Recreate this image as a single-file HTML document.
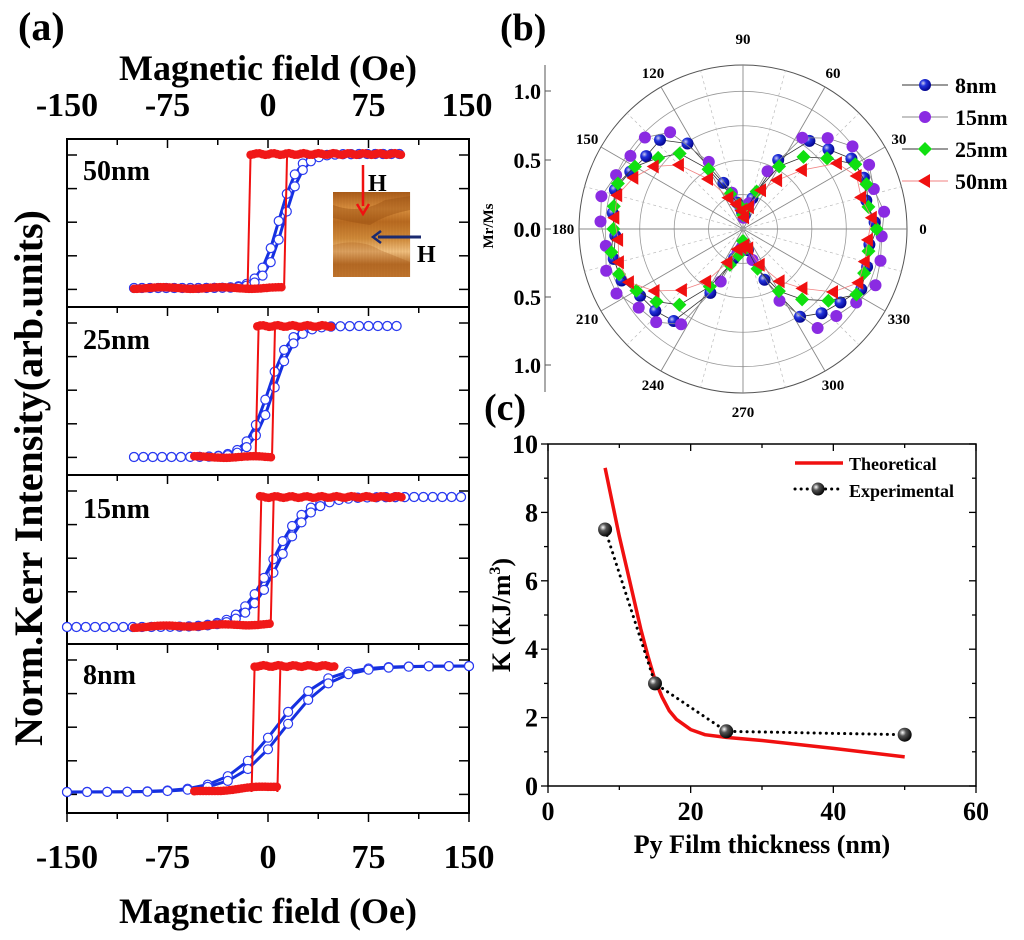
<!DOCTYPE html>
<html><head><meta charset="utf-8"><style>
html,body{margin:0;padding:0;background:#fff;}
svg{display:block;font-family:"Liberation Serif",serif;font-weight:bold;}
</style></head><body>
<svg id="s" width="1024" height="940" viewBox="0 0 1024 940" xmlns="http://www.w3.org/2000/svg">
<defs>
<linearGradient id="ins" x1="0" y1="0" x2="0" y2="1">
<stop offset="0" stop-color="#a85a18"/><stop offset="0.2" stop-color="#d99040"/><stop offset="0.35" stop-color="#b86a20"/><stop offset="0.55" stop-color="#cf8a3a"/><stop offset="0.7" stop-color="#f0c080"/><stop offset="0.85" stop-color="#b8702a"/><stop offset="1" stop-color="#c88038"/>
</linearGradient>
<radialGradient id="ball" cx="0.35" cy="0.35" r="0.7"><stop offset="0" stop-color="#fff"/><stop offset="0.35" stop-color="#555"/><stop offset="1" stop-color="#000"/></radialGradient>
<radialGradient id="bball" cx="0.35" cy="0.35" r="0.7"><stop offset="0" stop-color="#cce"/><stop offset="0.35" stop-color="#2233dd"/><stop offset="1" stop-color="#000088"/></radialGradient>
</defs>
<g id="g"></g>
</svg>
<script>
var g=document.getElementById('g'),o='';
function L(x1,y1,x2,y2,c,w,extra){o+='<line x1="'+x1+'" y1="'+y1+'" x2="'+x2+'" y2="'+y2+'" stroke="'+c+'" stroke-width="'+w+'" '+(extra||'')+'/>';}
function T(x,y,t,s,a,extra){o+='<text x="'+x+'" y="'+y+'" font-size="'+s+'" text-anchor="'+(a||'start')+'" '+(extra||'')+'>'+t+'</text>';}
function P(pts,c,w,extra){o+='<polyline fill="none" points="'+pts.map(function(p){return p[0].toFixed(1)+','+p[1].toFixed(1)}).join(' ')+'" stroke="'+c+'" stroke-width="'+w+'" '+(extra||'')+'/>';}
// ---------- Panel (a) ----------
T(18,40,'(a)',40);
T(268,80,'Magnetic field (Oe)',36,'middle');
var xs=[-150,-75,0,75,150];
function X(h){return 67+(h+150)*402/300;}
xs.forEach(function(v){T(X(v)+(v==150?-2:0),116,v,34,'middle');T(X(v),868,v,34,'middle');});
T(268,923,'Magnetic field (Oe)',36,'middle');
T(0,0,'Norm.Kerr Intensity(arb.units)',40,'middle','transform="translate(42,478) rotate(-90)"');
var panels=[[139,307],[307,475],[475,644],[644,813]];
panels.forEach(function(p){
 o+='<rect x="67" y="'+p[0]+'" width="402" height="'+(p[1]-p[0])+'" fill="none" stroke="#000" stroke-width="2"/>';
 for(var h=-150;h<=150;h+=37.5){var len=(h%75==0)?9:6;L(X(h),p[0],X(h),p[0]+len,'#000',1.5);}
 for(var k=0;k<5;k++){var y=p[0]+16+k*33.6;L(67,y,77,y,'#000',1.5);L(459,y,469,y,'#000',1.5);}
});
for(var h=-150;h<=150;h+=37.5){var len=(h%75==0)?9:6;L(X(h),813,X(h),813+len,'#000',1.5);}
function tanh(x){return Math.tanh(x);}
function loop(lo,hi,blue,red){
 var a=[],b=[];
 for(var h=blue.from;h<=blue.to;h+=blue.step){
  var f1=(tanh((h-blue.c1)/blue.w)+1)/2,f2=(tanh((h-blue.c2)/blue.w)+1)/2;
  a.push([X(h),lo+(hi-lo)*f1]);b.push([X(h),lo+(hi-lo)*f2]);
 }
 if(blue.line){P(a,'#1530e0',3);P(b,'#1530e0',3);}
 a.concat(b).forEach(function(p){o+='<circle cx="'+p[0].toFixed(1)+'" cy="'+p[1].toFixed(1)+'" r="4.5" fill="#fff" stroke="#2a3af0" stroke-width="1.2"/>';});
 L(X(red.s1),hi,X(red.s1)-3,lo,'#f01010',2);L(X(red.s2)+3,hi,X(red.s2),lo,'#f01010',2);
 for(var h=red.lf;h<=red.lt;h+=2.2){var y=lo+(red.tilt||0)*(h-red.lf)/(red.lt-red.lf)+Math.sin(h*3)*0.8;o+='<circle cx="'+X(h).toFixed(1)+'" cy="'+y.toFixed(1)+'" r="4.3" fill="#f01818"/>';}
 for(var h=red.hf;h<=red.ht;h+=2.2){var y=hi+Math.sin(h*2.3)*0.8;o+='<circle cx="'+X(h).toFixed(1)+'" cy="'+y.toFixed(1)+'" r="4.3" fill="#f01818"/>';}
}
loop(288,154,{from:-100,to:100,step:6,c1:8,c2:12,w:14,line:true},{s1:-13,s2:12,lf:-100,lt:12,hf:-13,ht:100});
loop(457,326,{from:-100,to:100,step:7,c1:0,c2:4,w:16,line:true},{s1:-7,s2:3,lf:-55,lt:3,hf:-8,ht:48});
loop(627,497,{from:-150,to:150,step:7,c1:3,c2:8,w:24,line:true},{s1:-5,s2:2,lf:-100,lt:3,hf:-6,ht:100,tilt:-3});
loop(792,666,{from:-150,to:150,step:15,c1:5,c2:12,w:36,line:true},{s1:-10,s2:7,lf:-55,lt:8,hf:-10,ht:50,tilt:-6});
T(83,180,'50nm',28);T(83,349,'25nm',28);T(83,518,'15nm',28);T(83,684,'8nm',28);
// inset
o+='<rect x="333" y="192" width="77" height="85" fill="url(#ins)"/>';
for(var i=0;i<26;i++){o+='<line x1="'+(335+i*3)+'" y1="192" x2="'+(335+i*3)+'" y2="277" stroke="#8a4a10" stroke-opacity="0.12" stroke-width="1"/>';}
o+='<path d="M333,205 Q360,215 385,200 L410,196 L410,210 Q385,215 370,225 Q350,222 333,218Z" fill="#9a5012" opacity="0.45"/>';
o+='<path d="M333,245 Q360,238 380,250 L410,262 L410,277 L333,277Z" fill="#a85a18" opacity="0.3"/>';
L(363,165,363,206,'#f01010',2.5);o+='<path d="M357,204 L363,214 L369,204" fill="none" stroke="#f01010" stroke-width="2.5"/>';
L(421,237,378,237,'#1a2a70',3);o+='<path d="M381,231 L373,237 L381,243" fill="none" stroke="#1a2a70" stroke-width="2.5"/>';
T(368,191,'H',24);T(417,262,'H',24);
// ---------- Panel (b) ----------
T(500,40,'(b)',38);
var cx=743,cy=229,S=137.7;
[0.25,0.5,0.75,1.0].forEach(function(r){o+='<circle cx="'+cx+'" cy="'+cy+'" r="'+(r*S)+'" fill="none" stroke="#999" stroke-width="0.8"/>';});
o+='<circle cx="'+cx+'" cy="'+cy+'" r="164" fill="none" stroke="#555" stroke-width="1"/>';
for(var a=0;a<360;a+=15){var rad=a*Math.PI/180;var solid=a%30==0;L(cx,cy,(cx+164*Math.cos(rad)).toFixed(1),(cy-164*Math.sin(rad)).toFixed(1),solid?'#888':'#bbb',solid?0.9:0.7,solid?'':'stroke-dasharray="3,3"');
 if(solid){var lr=180;var tx=cx+lr*Math.cos(rad),ty=cy-lr*Math.sin(rad)+5;if(a==90)ty=cy-185;if(a==270)ty=cy+188;T(tx.toFixed(1),ty.toFixed(1),a,15,'middle');}}
L(545,65,545,392,'#555',1);
[[91,'1.0'],[160,'0.5'],[229,'0.0'],[297,'0.5'],[365,'1.0']].forEach(function(t){L(545,t[0],551,t[0],'#555',1);T(541,t[0]+8,t[1],22,'end');});
T(0,0,'Mr/Ms',15,'middle','transform="translate(493,226) rotate(-90)"');
function interp(tab,phi){for(var i=0;i<tab.length-1;i++){if(phi<=tab[i+1][0]){var f=(phi-tab[i][0])/(tab[i+1][0]-tab[i][0]);return tab[i][1]+f*(tab[i+1][1]-tab[i][1]);}}return tab[tab.length-1][1];}
var tabA=[[0,1],[30,0.97],[50,0.88],[56,0.8],[64,0.52],[70,0.3],[80,0.15],[90,0.08]];
var tabB=[[0,1],[30,0.93],[40,0.78],[50,0.55],[60,0.37],[70,0.22],[90,0.08]];
var tabC=[[0,1],[30,0.95],[45,0.8],[55,0.62],[65,0.4],[75,0.22],[90,0.08]];
function series(a,tab,col,mk,lc,ph){
 var pts=[];
 for(var d=0;d<360;d+=10){var dd=d+ph;var th=dd*Math.PI/180;var phi=Math.abs(Math.atan2(Math.abs(Math.sin(th)),Math.abs(Math.cos(th))))*180/Math.PI;var r=a*interp(tab,phi)+0.03*Math.sin(d*1.7);pts.push([cx+r*S*Math.cos(th),cy-r*S*Math.sin(th)]);}
 pts.push(pts[0]);P(pts,lc,0.8);
 pts.slice(0,-1).forEach(function(q){mk(q[0],q[1],col);});
}
function ball(x,y){o+='<circle cx="'+x.toFixed(1)+'" cy="'+y.toFixed(1)+'" r="6" fill="url(#bball)"/>';}
function dot(x,y,c){o+='<circle cx="'+x.toFixed(1)+'" cy="'+y.toFixed(1)+'" r="6" fill="'+c+'"/>';}
function dia(x,y,c){o+='<path d="M'+x.toFixed(1)+','+(y-7).toFixed(1)+' l7,7 l-7,7 l-7,-7z" fill="'+c+'"/>';}
function tri(x,y,c){o+='<path d="M'+(x-7).toFixed(1)+','+y.toFixed(1)+' l12,-7 l0,14z" fill="'+c+'"/>';}
series(0.96,tabA,'#1530e0',ball,'#333',3);
series(1.04,tabA,'#8a2be2',dot,'#888',7);
series(0.97,tabC,'#10e010',dia,'#333',0);
series(0.95,tabB,'#f01010',tri,'#f08080',5);
var ly=[85,117,149,181];
L(902,ly[0],948,ly[0],'#333',1);ball(925,ly[0]);
L(902,ly[1],948,ly[1],'#888',1);dot(925,ly[1],'#8a2be2');
L(902,ly[2],948,ly[2],'#333',1);dia(925,ly[2],'#10e010');
L(902,ly[3],948,ly[3],'#f08080',1);tri(925,ly[3],'#f01010');
T(955,ly[0]+8,'8nm',22);T(955,ly[1]+8,'15nm',22);T(955,ly[2]+8,'25nm',22);T(955,ly[3]+8,'50nm',22);
// ---------- Panel (c) ----------
T(484,420,'(c)',38);
function CX(v){return 548+v*428/60;}function CY(v){return 786-v*34.2;}
o+='<rect x="548" y="444" width="428" height="342" fill="none" stroke="#000" stroke-width="1.5"/>';
for(var v=0;v<=60;v+=10){var len=v%20==0?7:4;L(CX(v),786,CX(v),786+len,'#000',1.3);L(CX(v),444,CX(v),444+len,'#000',1.3);}
for(var v=0;v<=10;v+=1){var len=v%2==0?7:4;L(548-len,CY(v),548,CY(v),'#000',1.3);L(976-len,CY(v),976,CY(v),'#000',1.3);}
[0,20,40,60].forEach(function(v){T(CX(v),820,v,26,'middle');});
[0,2,4,6,8,10].forEach(function(v){T(538,CY(v)+9,v,26,'end');});
T(762,853,'Py Film thickness (nm)',26,'middle');
o+='<text font-size="26" text-anchor="middle" transform="translate(510,615) rotate(-90)">K (KJ/m<tspan font-size="16" dy="-10">3</tspan><tspan dy="10">)</tspan></text>';
var th=[[8,9.3],[9,8.3],[10,7.3],[11,6.4],[12,5.5],[13,4.6],[14,3.8],[15,3.1],[16,2.6],[17,2.2],[18,1.95],[20,1.65],[22,1.5],[25,1.42],[30,1.33],[40,1.1],[50,0.85]];
P(th.map(function(p){return [CX(p[0]),CY(p[1])];}),'#f01010',3.5);
var ex=[[8,7.5],[15,3.0],[25,1.6],[50,1.5]];
P(ex.map(function(p){return [CX(p[0]),CY(p[1])];}),'#000',3,'stroke-dasharray="0.1,6" stroke-linecap="round"');
ex.forEach(function(p){o+='<circle cx="'+CX(p[0])+'" cy="'+CY(p[1])+'" r="7" fill="url(#ball)"/>';});
L(795,463,843,463,'#f01010',3.5);T(849,470,'Theoretical',18);
L(795,489,838,489,'#000',3,'stroke-dasharray="0.1,6" stroke-linecap="round"');o+='<circle cx="818" cy="489" r="6.5" fill="url(#ball)"/>';T(849,497,'Experimental',18);
g.innerHTML=o;
</script>
</body></html>
